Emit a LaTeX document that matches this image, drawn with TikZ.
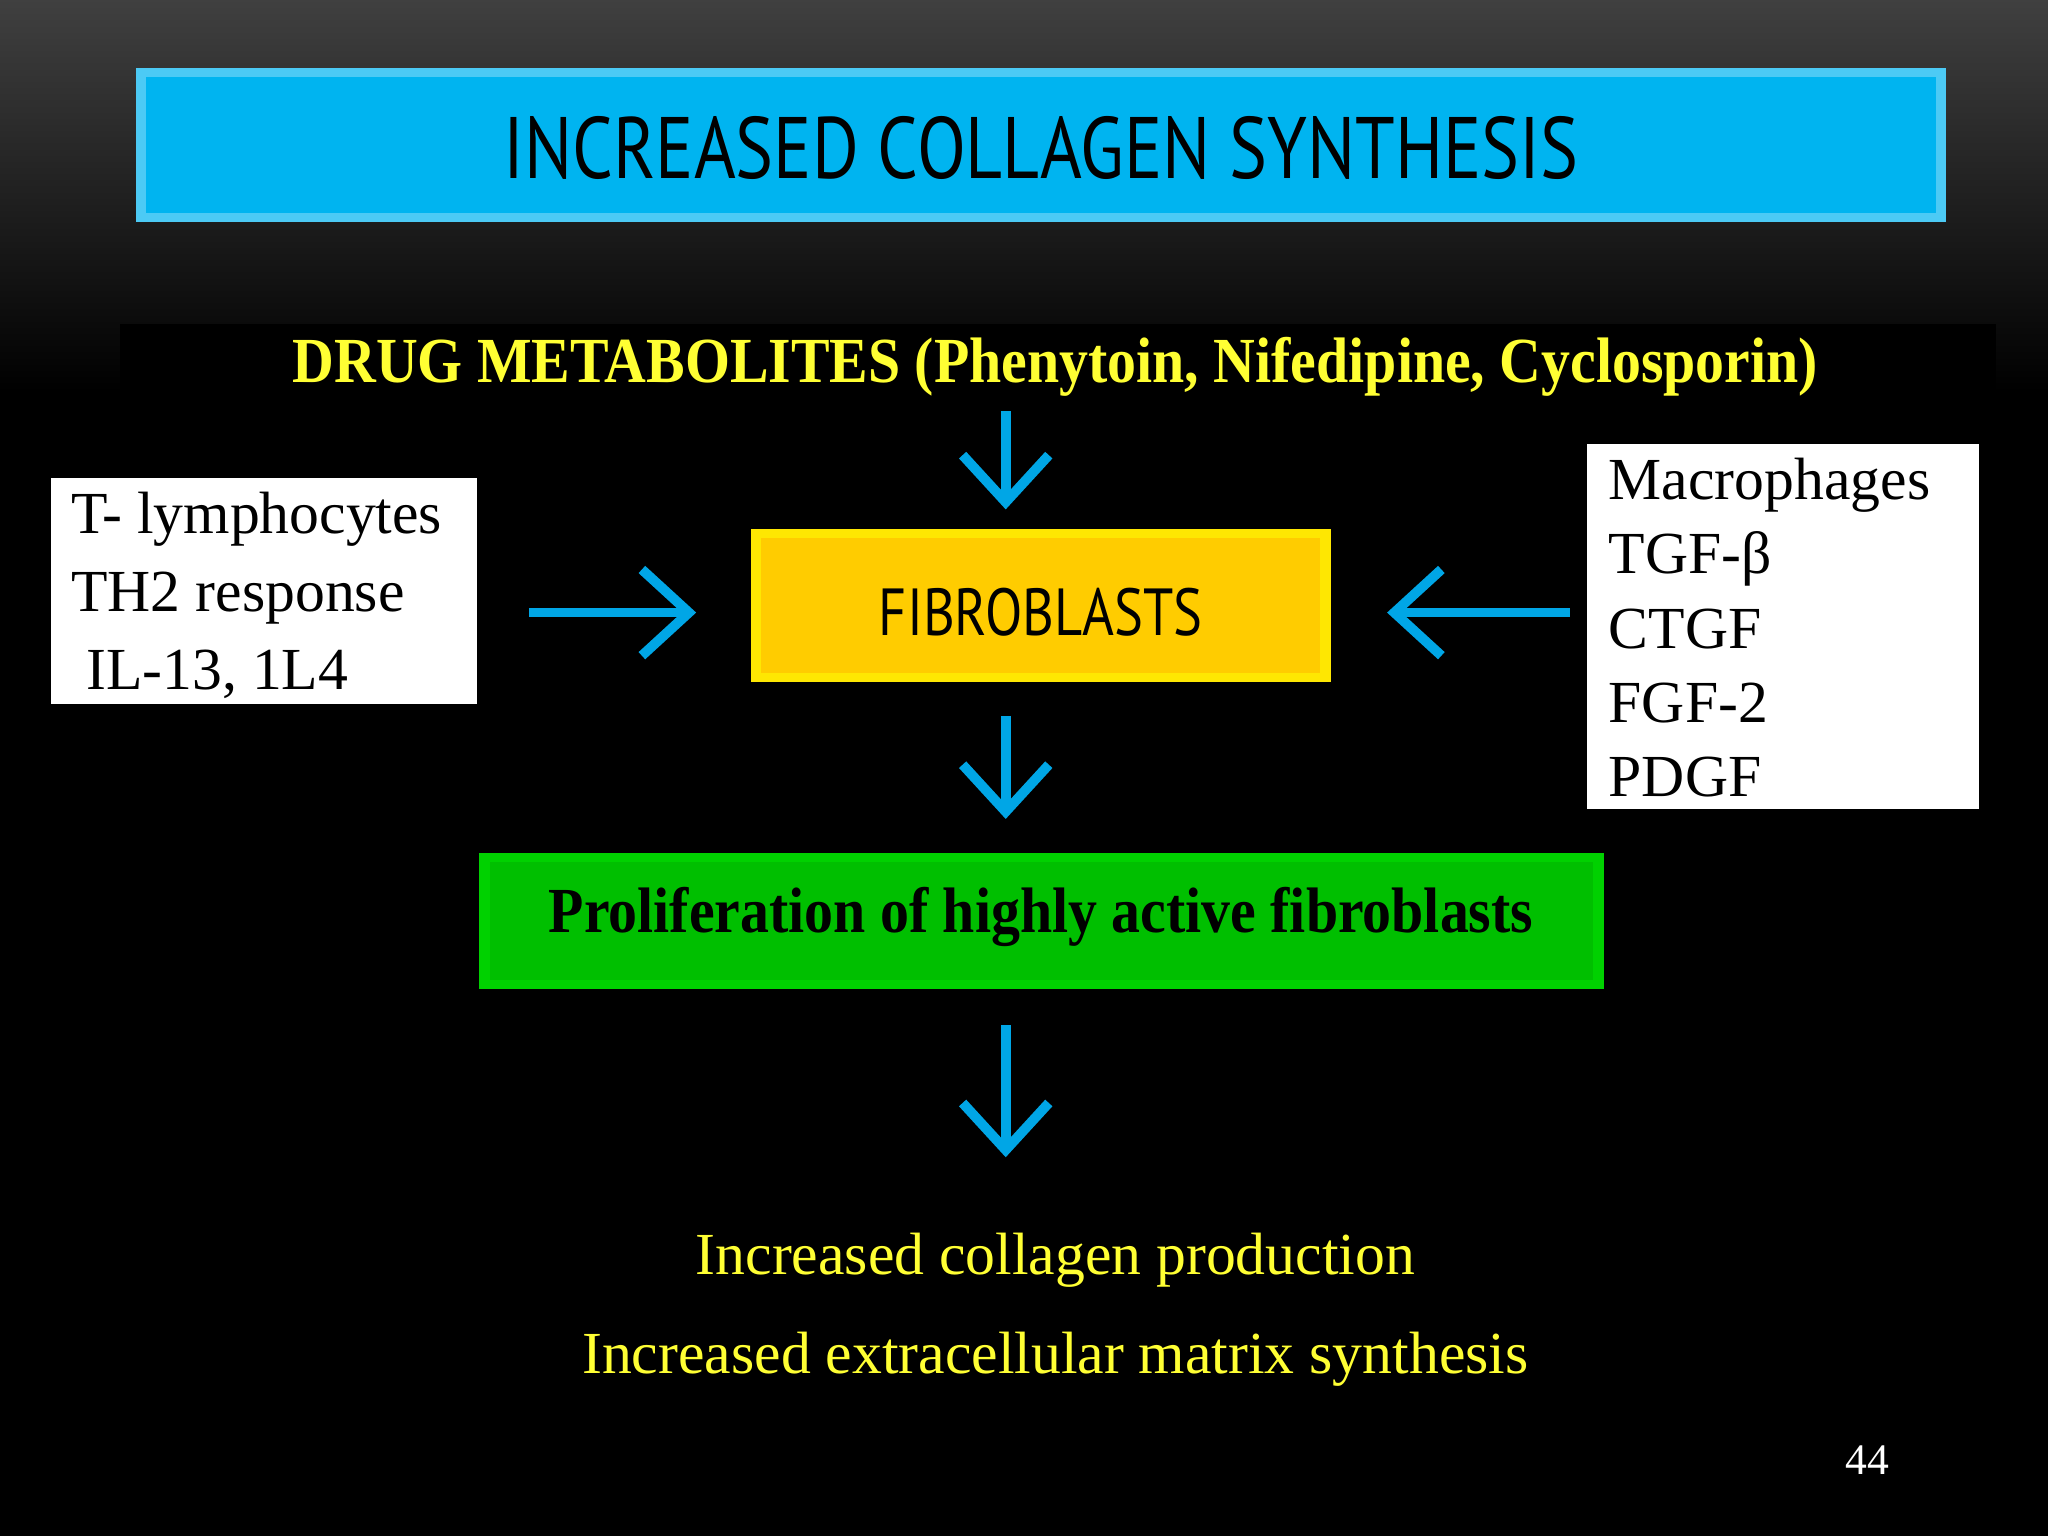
\documentclass[tikz,border=0pt]{standalone}
\usepackage{fontspec}
\setmainfont{Liberation Serif}
\newfontfamily\condf[FakeStretch=0.82]{PT Sans}
\newfontfamily\condserif[FakeStretch=0.9]{Liberation Serif}
\usetikzlibrary{arrows.meta}
\definecolor{arrc}{HTML}{00A6E6}
\definecolor{ttl}{HTML}{00B4F0}
\definecolor{yel}{HTML}{FFFF33}
\tikzset{
 flow/.style={draw=arrc,line width=0.75mm,-{Straight Barb[length=3.6mm,width=6.6mm,line width=0.75mm]}},
 wbox/.style={fill=white,draw=none,anchor=north west,align=left,text=black,font=\fontsize{13}{17}\selectfont,inner sep=0pt},
}
\begin{document}
\begin{tikzpicture}[x=0.1mm,y=-0.1mm]
\useasboundingbox (0,0) rectangle (1568,1176);
\shade[top color=black!75,bottom color=black] (0,0) rectangle (1568,300);
\fill[black] (0,300) rectangle (1568,1176);
\fill[black] (92,248) rectangle (1528,1176);
% title
\fill[ttl!70!white] (104,52) rectangle (1490,170);
\fill[ttl] (112,59) rectangle (1482,163);
\node (title) at (797,113) {\condf\fontsize{19}{22}\selectfont INCREASED COLLAGEN SYNTHESIS};
% drug
\node[text=yel] (drug) at (808,281) {\condserif\bfseries\fontsize{14}{17}\selectfont DRUG METABOLITES (Phenytoin, Nifedipine, Cyclosporin)};
% fibroblasts
\fill[yellow!90!orange] (575,405) rectangle (1019,522);
\fill[orange!40!yellow] (583,412) rectangle (1011,515);
\node (fib) at (797,469) {\condf\fontsize{14.5}{17}\selectfont FIBROBLASTS};
\coordinate (fibN) at (770,390); \coordinate (fibW) at (533,469); \coordinate (fibE) at (1062,469);
% left box
\fill[white] (39,366) rectangle (365,539);
\node[wbox] (left) at (54,376) {T- lymphocytes\\TH2 response\\\ IL-13, 1L4};
% right box
\fill[white] (1215,340) rectangle (1515,619);
\node[wbox,font=\fontsize{13}{16.2}\selectfont] (right) at (1231,350) {Macrophages\\TGF-β\\CTGF\\FGF-2\\PDGF};
% green
\fill[green!70!black!60!green] (367,653) rectangle (1228,757);
\fill[green!75!black] (375,660) rectangle (1220,750);
\node (prol) at (797,702) {\condserif\bfseries\fontsize{14}{17}\selectfont Proliferation of highly active fibroblasts};
% arrows
\coordinate (a1) at (770,315);
\draw[flow] (a1) -- (fibN);
\coordinate (lA) at (405,469); \draw[flow] (lA) -- (fibW);
\coordinate (rA) at (1202,469); \draw[flow] (rA) -- (fibE);
\coordinate (a2s) at (770,548); \coordinate (a2e) at (770,627);
\draw[flow] (a2s) -- (a2e);
\coordinate (a3s) at (770,785); \coordinate (a3e) at (770,886);
\draw[flow] (a3s) -- (a3e);
% bottom text
\node[text=yel,font=\fontsize{13}{16}\selectfont] (o1) at (808,965) {Increased collagen production};
\node[text=yel,font=\fontsize{13}{16}\selectfont] (o2) at (808,1041) {Increased extracellular matrix synthesis};
\node[text=white,font=\fontsize{9.5}{11}\selectfont] (pg) at (1430,1118) {44};
\end{tikzpicture}
\end{document}
